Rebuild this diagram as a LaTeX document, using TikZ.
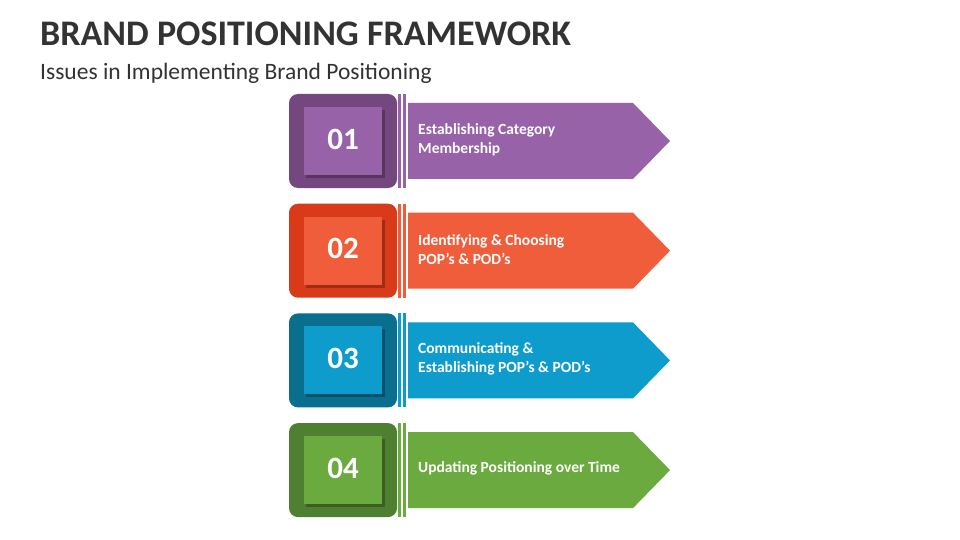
\documentclass[tikz,border=0pt]{standalone}
\usepackage{fontspec}
\setmainfont{Carlito}
\definecolor{pD}{HTML}{74477F}\definecolor{pL}{HTML}{9762A8}
\definecolor{oD}{HTML}{D83A1A}\definecolor{oL}{HTML}{F05D3B}
\definecolor{bD}{HTML}{0A6E8E}\definecolor{bL}{HTML}{0D9CCB}
\definecolor{gD}{HTML}{4F7F30}\definecolor{gL}{HTML}{6AAA3F}
\definecolor{ttl}{HTML}{333333}
\tikzset{
 outerbox/.style={rounded corners=9pt},
 numtxt/.style={text=white,font=\fontsize{31}{31}\selectfont\bfseries},
 lbltxt/.style={text=white,font=\fontsize{15.5}{19}\selectfont\bfseries,align=left,anchor=west}
}
\begin{document}
\begin{tikzpicture}[x=1pt,y=-1pt]
\useasboundingbox (0,0) rectangle (960,540);
\fill[white] (0,0) rectangle (960,540);
\node[anchor=west,inner xsep=0pt,text=ttl,font=\fontsize{36}{38}\selectfont\bfseries] (title) at (40,34) {BRAND POSITIONING FRAMEWORK};
\node[anchor=west,inner xsep=0pt,text=ttl,font=\fontsize{23.5}{26}\selectfont] (sub) at (40,73) {Issues in Implementing Brand Positioning};
\foreach \i/\D/\L/\n/\t in {0/pD/pL/01/{Establishing Category\\Membership},1/oD/oL/02/{Identifying \& Choosing\\POP’s \& POD’s},2/bD/bL/03/{Communicating \&\\Establishing POP’s \& POD’s},3/gD/gL/04/{Updating Positioning over Time}}{
 \begin{scope}[yshift={-\i*109.7pt}]
 \fill[\L] (408,103) -- (633,103) -- (670,141) -- (633,179) -- (408,179) -- cycle;
 \fill[\L] (398,94) rectangle (401,188);
 \fill[\L] (403,94) rectangle (406,188);
 \fill[\D,outerbox] (289,94) rectangle (397,188);
 \fill[black,opacity=0.25] (306,110) rectangle (385,178);
 \fill[\L] (304,107) rectangle (382,175);
 \node[numtxt] (n\i) at (343,139) {\n};
 \node[lbltxt,inner xsep=0pt] (t\i) at (418,139.5) {\t};
 \end{scope}
}
\end{tikzpicture}
\end{document}
